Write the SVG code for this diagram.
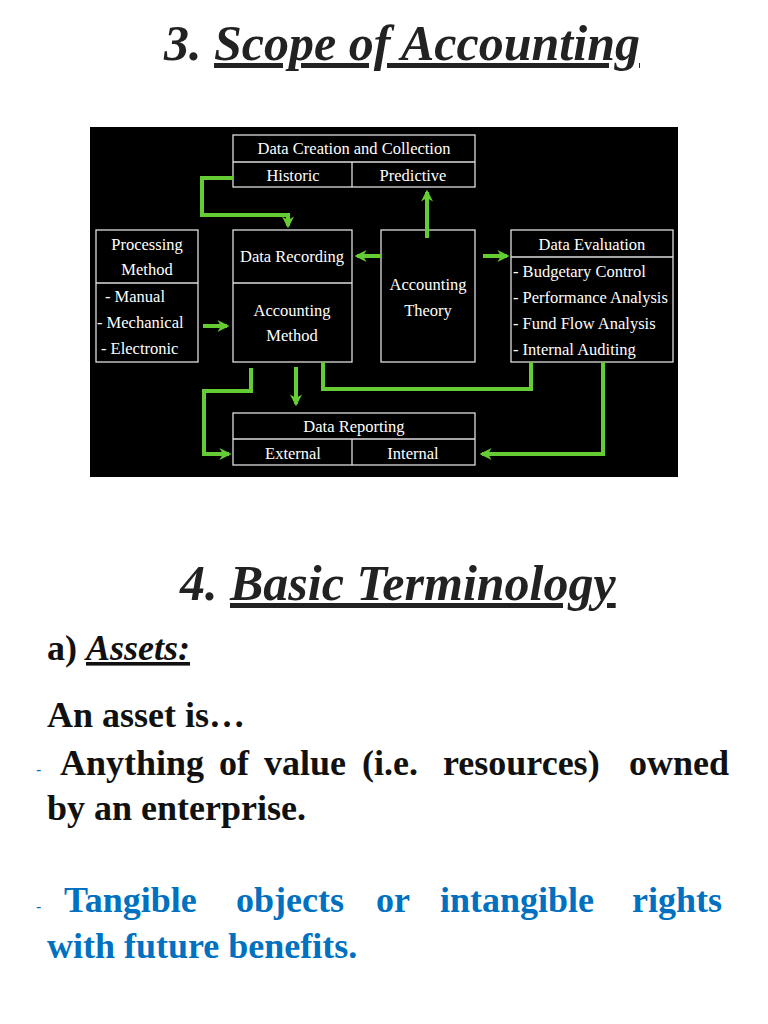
<svg xmlns="http://www.w3.org/2000/svg" width="768" height="1024" viewBox="0 0 768 1024">
<defs>
<style>
.h{font-family:"Liberation Serif",serif;font-weight:bold;font-style:italic;font-size:50px;fill:#222}
.b{font-family:"Liberation Serif",serif;font-weight:bold;font-size:36px;fill:#111}
.bl{fill:#0070C0}
.box{fill:none;stroke:#ddd;stroke-width:1.3}
.t{font-family:"Liberation Serif",serif;font-size:16.5px;fill:#fff;text-anchor:middle}
.tl{font-family:"Liberation Serif",serif;font-size:16.5px;fill:#fff}
.c{fill:none;stroke:#6c3;stroke-width:4}
</style>
<marker id="a" viewBox="0 0 10 10" refX="8" refY="5" markerWidth="3" markerHeight="3" orient="auto"><path d="M0,0L10,5L0,10L3,5z" fill="#6c3"/></marker>
</defs>
<rect width="768" height="1024" fill="#fff"/>
<text class="h" x="402" y="60" text-anchor="middle">3. <tspan text-decoration="underline">Scope of Accounting</tspan></text>
<rect x="90" y="127" width="588" height="350" fill="#000"/>
<g id="dcc"><rect class="box" x="233" y="135" width="242" height="52"/><line class="box" x1="233" y1="162" x2="475" y2="162"/><line class="box" x1="352" y1="162" x2="352" y2="187"/>
<text class="t" x="354" y="154">Data Creation and Collection</text><text class="t" x="293" y="181">Historic</text><text class="t" x="413" y="181">Predictive</text></g>
<g id="pm"><rect class="box" x="96" y="230" width="102" height="132"/><line class="box" x1="96" y1="283" x2="198" y2="283"/>
<text class="t" x="147" y="250">Processing</text><text class="t" x="147" y="275">Method</text>
<text class="tl" x="105" y="302">-  Manual</text><text class="tl" x="97" y="328">- Mechanical</text><text class="tl" x="101" y="354">- Electronic</text></g>
<g id="dr"><rect class="box" x="233" y="230" width="119" height="132"/><line class="box" x1="233" y1="283" x2="352" y2="283"/>
<text class="t" x="292" y="262">Data Recording</text><text class="t" x="292" y="316">Accounting</text><text class="t" x="292" y="341">Method</text></g>
<g id="at"><rect class="box" x="381" y="230" width="94" height="132"/><text class="t" x="428" y="290">Accounting</text><text class="t" x="428" y="316">Theory</text></g>
<g id="de"><rect class="box" x="511" y="230" width="162" height="132"/><line class="box" x1="511" y1="257" x2="673" y2="257"/>
<text class="t" x="592" y="250">Data Evaluation</text>
<text class="tl" x="513" y="277">- Budgetary Control</text><text class="tl" x="513" y="303">- Performance Analysis</text><text class="tl" x="513" y="329">- Fund Flow Analysis</text><text class="tl" x="513" y="355">- Internal Auditing</text></g>
<g id="rep"><rect class="box" x="233" y="413" width="242" height="52"/><line class="box" x1="233" y1="439" x2="475" y2="439"/><line class="box" x1="352" y1="439" x2="352" y2="465"/>
<text class="t" x="354" y="432">Data Reporting</text><text class="t" x="293" y="459">External</text><text class="t" x="413" y="459">Internal</text></g>
<g id="connectors">
<path class="c" d="M233,178H202V215H288V226" marker-end="url(#a)"/>
<path class="c" d="M427,238V192" marker-end="url(#a)"/>
<path class="c" d="M381,256H357" marker-end="url(#a)"/>
<path class="c" d="M483,256H507" marker-end="url(#a)"/>
<path class="c" d="M203,326H227" marker-end="url(#a)"/>
<path class="c" d="M296,367V404" marker-end="url(#a)"/>
<path class="c" d="M323,362V389H531V362"/>
<path class="c" d="M251,368V391H204V454H229" marker-end="url(#a)"/>
<path class="c" d="M603,362V454H482" marker-end="url(#a)"/>
</g>
<text class="h" x="180" y="600">4. <tspan text-decoration="underline">Basic Terminology</tspan></text>
<text class="b" x="47" y="660">a) <tspan font-style="italic" text-decoration="underline">Assets:</tspan></text>
<text class="b" x="47" y="727">An asset is…</text>
<text class="bl" x="36" y="775" font-family="Liberation Sans" font-size="16">-</text>
<text class="b" y="775"><tspan x="60">Anything</tspan><tspan x="219">of</tspan><tspan x="264">value</tspan><tspan x="362">(i.e.</tspan><tspan x="443">resources)</tspan><tspan x="629">owned</tspan></text>
<text class="b" x="47" y="820">by an enterprise.</text>
<text class="bl" x="36" y="912" font-family="Liberation Sans" font-size="16">-</text>
<text class="b bl" y="912"><tspan x="64">Tangible</tspan><tspan x="236">objects</tspan><tspan x="376">or</tspan><tspan x="440">intangible</tspan><tspan x="632">rights</tspan></text>
<text class="b bl" x="47" y="958">with future benefits.</text>
</svg>
